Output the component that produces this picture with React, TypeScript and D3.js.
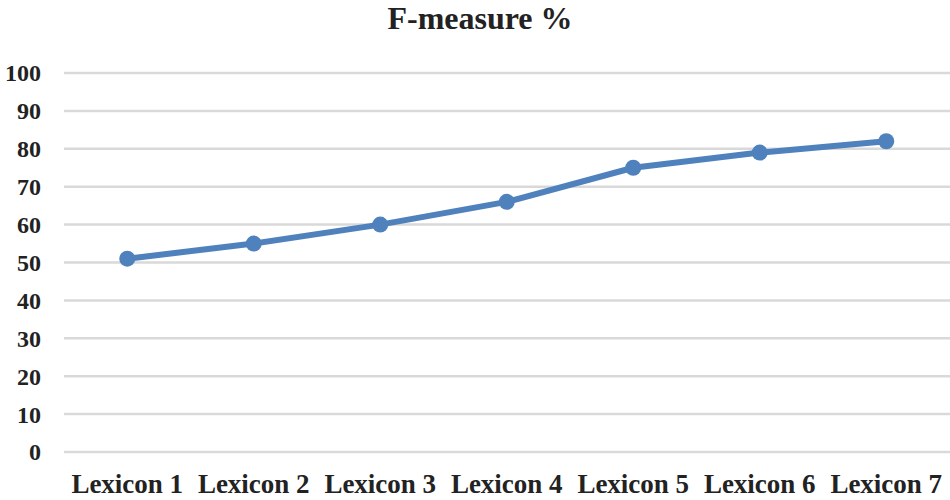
import * as d3 from 'd3';
import React, { useEffect, useRef } from 'react';

const categories = ["Lexicon 1", "Lexicon 2", "Lexicon 3", "Lexicon 4", "Lexicon 5", "Lexicon 6", "Lexicon 7"];
const fMeasure = [51, 55, 60, 66, 75, 79, 82];
const yTicks = [0, 10, 20, 30, 40, 50, 60, 70, 80, 90, 100];
const title = "F-measure %";

const W = 950;
const H = 500;
const FONT = '"Liberation Serif", "Times New Roman", serif';

export default function App() {
  const svgRef = useRef<SVGSVGElement>(null);

  useEffect(() => {
    const svg = d3.select(svgRef.current);
    svg.selectAll("*").remove();

    const margin = { top: 73, right: 0, bottom: 48, left: 64 };

    const x = d3.scaleBand<string>()
      .domain(categories)
      .range([margin.left, W - 0.5]);

    const y = d3.scaleLinear()
      .domain([0, 100])
      .range([H - margin.bottom, margin.top]);

    // title
    svg.append("text")
      .attr("x", 480)
      .attr("y", 29)
      .attr("text-anchor", "middle")
      .attr("font-family", FONT)
      .attr("font-weight", "bold")
      .attr("font-size", 32)
      .attr("fill", "#222")
      .text(title);

    // gridlines
    svg.append("g")
      .selectAll("line")
      .data(yTicks)
      .join("line")
      .attr("x1", margin.left)
      .attr("x2", W)
      .attr("y1", d => y(d))
      .attr("y2", d => y(d))
      .attr("stroke", "#d9d9d9")
      .attr("stroke-width", 2.5);

    // y labels
    svg.append("g")
      .selectAll("text")
      .data(yTicks)
      .join("text")
      .attr("x", 41)
      .attr("y", d => y(d))
      .attr("dy", "0.35em")
      .attr("text-anchor", "end")
      .attr("font-family", FONT)
      .attr("font-weight", "bold")
      .attr("font-size", 24)
      .attr("fill", "#222")
      .text(d => `${d}`);

    // x labels
    svg.append("g")
      .selectAll("text")
      .data(categories)
      .join("text")
      .attr("x", d => (x(d) ?? 0) + x.bandwidth() / 2)
      .attr("y", H - 7)
      .attr("text-anchor", "middle")
      .attr("font-family", FONT)
      .attr("font-weight", "bold")
      .attr("font-size", 27)
      .attr("fill", "#222")
      .text(d => d);

    const cx = (i: number) => (x(categories[i]) ?? 0) + x.bandwidth() / 2;

    const line = d3.line<number>()
      .x((_, i) => cx(i))
      .y(d => y(d))(fMeasure);

    svg.append("path")
      .attr("d", line)
      .attr("fill", "none")
      .attr("stroke", "#4f81bd")
      .attr("stroke-width", 6)
      .attr("stroke-linejoin", "round")
      .attr("stroke-linecap", "round");

    svg.append("g")
      .selectAll("circle")
      .data(fMeasure)
      .join("circle")
      .attr("cx", (_, i) => cx(i))
      .attr("cy", d => y(d))
      .attr("r", 8)
      .attr("fill", "#4f81bd");
  }, []);

  return (
    <svg ref={svgRef} width={W} height={H}
      style={{ position: "absolute", left: 0, top: 0, background: "#fff" }} />
  );
}
